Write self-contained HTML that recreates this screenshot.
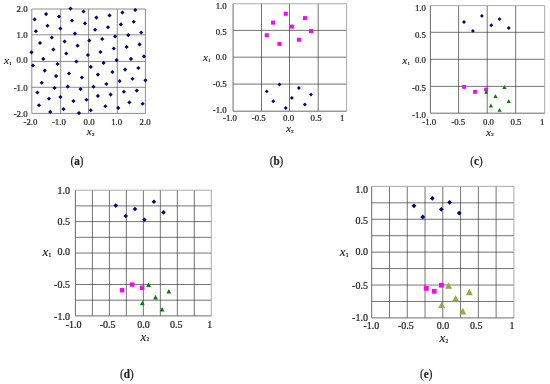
<!DOCTYPE html>
<html><head><meta charset="utf-8"><title>Figure</title>
<style>html,body{margin:0;padding:0;background:#fff}svg{display:block}text{font-family:"Liberation Serif",serif;fill:#1c1c1c;stroke:#1c1c1c;stroke-width:0.22}</style>
</head><body>
<svg width="550" height="384" viewBox="0 0 550 384">
<rect width="550" height="384" fill="#fff"/>
<line x1="31.80" y1="9.00" x2="31.80" y2="113.40" stroke="#707070" stroke-width="0.8"/>
<line x1="60.70" y1="9.00" x2="60.70" y2="113.40" stroke="#707070" stroke-width="0.8"/>
<line x1="88.60" y1="9.00" x2="88.60" y2="113.40" stroke="#707070" stroke-width="0.8"/>
<line x1="117.30" y1="9.00" x2="117.30" y2="113.40" stroke="#707070" stroke-width="0.8"/>
<line x1="145.40" y1="9.00" x2="145.40" y2="113.40" stroke="#707070" stroke-width="0.8"/>
<line x1="31.80" y1="9.00" x2="145.40" y2="9.00" stroke="#707070" stroke-width="0.8"/>
<line x1="31.80" y1="34.80" x2="145.40" y2="34.80" stroke="#707070" stroke-width="0.8"/>
<line x1="31.80" y1="61.45" x2="145.40" y2="61.45" stroke="#707070" stroke-width="0.8"/>
<line x1="31.80" y1="87.30" x2="145.40" y2="87.30" stroke="#707070" stroke-width="0.8"/>
<line x1="31.80" y1="113.40" x2="145.40" y2="113.40" stroke="#707070" stroke-width="0.8"/>
<path d="M70.50 6.50L72.60 8.60L70.50 10.70L68.40 8.60Z" fill="#000080"/>
<path d="M83.50 9.40L85.60 11.50L83.50 13.60L81.40 11.50Z" fill="#000080"/>
<path d="M46.10 12.00L48.20 14.10L46.10 16.20L44.00 14.10Z" fill="#000080"/>
<path d="M58.90 14.40L61.00 16.50L58.90 18.60L56.80 16.50Z" fill="#000080"/>
<path d="M34.60 17.30L36.70 19.40L34.60 21.50L32.50 19.40Z" fill="#000080"/>
<path d="M72.00 18.40L74.10 20.50L72.00 22.60L69.90 20.50Z" fill="#000080"/>
<path d="M85.00 21.30L87.10 23.40L85.00 25.50L82.90 23.40Z" fill="#000080"/>
<path d="M47.50 23.65L49.60 25.75L47.50 27.85L45.40 25.75Z" fill="#000080"/>
<path d="M60.40 26.40L62.50 28.50L60.40 30.60L58.30 28.50Z" fill="#000080"/>
<path d="M35.90 29.15L38.00 31.25L35.90 33.35L33.80 31.25Z" fill="#000080"/>
<path d="M74.90 31.50L77.00 33.60L74.90 35.70L72.80 33.60Z" fill="#000080"/>
<path d="M51.75 35.40L53.85 37.50L51.75 39.60L49.65 37.50Z" fill="#000080"/>
<path d="M64.60 39.40L66.70 41.50L64.60 43.60L62.50 41.50Z" fill="#000080"/>
<path d="M89.30 38.40L91.40 40.50L89.30 42.60L87.20 40.50Z" fill="#000080"/>
<path d="M40.00 40.90L42.10 43.00L40.00 45.10L37.90 43.00Z" fill="#000080"/>
<path d="M77.60 43.60L79.70 45.70L77.60 47.80L75.50 45.70Z" fill="#000080"/>
<path d="M53.40 47.40L55.50 49.50L53.40 51.60L51.30 49.50Z" fill="#000080"/>
<path d="M31.50 50.20L33.60 52.30L31.50 54.40L29.40 52.30Z" fill="#000080"/>
<path d="M135.25 7.90L137.35 10.00L135.25 12.10L133.15 10.00Z" fill="#000080"/>
<path d="M122.40 10.40L124.50 12.50L122.40 14.60L120.30 12.50Z" fill="#000080"/>
<path d="M109.50 13.30L111.60 15.40L109.50 17.50L107.40 15.40Z" fill="#000080"/>
<path d="M96.40 15.50L98.50 17.60L96.40 19.70L94.30 17.60Z" fill="#000080"/>
<path d="M133.75 19.65L135.85 21.75L133.75 23.85L131.65 21.75Z" fill="#000080"/>
<path d="M120.90 22.30L123.00 24.40L120.90 26.50L118.80 24.40Z" fill="#000080"/>
<path d="M108.00 25.15L110.10 27.25L108.00 29.35L105.90 27.25Z" fill="#000080"/>
<path d="M95.10 27.65L97.20 29.75L95.10 31.85L93.00 29.75Z" fill="#000080"/>
<path d="M141.25 30.40L143.35 32.50L141.25 34.60L139.15 32.50Z" fill="#000080"/>
<path d="M128.25 33.00L130.35 35.10L128.25 37.20L126.15 35.10Z" fill="#000080"/>
<path d="M115.10 34.40L117.20 36.50L115.10 38.60L113.00 36.50Z" fill="#000080"/>
<path d="M102.25 36.90L104.35 39.00L102.25 41.10L100.15 39.00Z" fill="#000080"/>
<path d="M139.60 42.30L141.70 44.40L139.60 46.50L137.50 44.40Z" fill="#000080"/>
<path d="M126.60 44.80L128.70 46.90L126.60 49.00L124.50 46.90Z" fill="#000080"/>
<path d="M113.75 46.40L115.85 48.50L113.75 50.60L111.65 48.50Z" fill="#000080"/>
<path d="M100.50 49.90L102.60 52.00L100.50 54.10L98.40 52.00Z" fill="#000080"/>
<path d="M66.25 51.40L68.35 53.50L66.25 55.60L64.15 53.50Z" fill="#000080"/>
<path d="M87.90 52.90L90.00 55.00L87.90 57.10L85.80 55.00Z" fill="#000080"/>
<path d="M43.25 56.80L45.35 58.90L43.25 61.00L41.15 58.90Z" fill="#000080"/>
<path d="M76.40 59.40L78.50 61.50L76.40 63.60L74.30 61.50Z" fill="#000080"/>
<path d="M57.60 61.90L59.70 64.00L57.60 66.10L55.50 64.00Z" fill="#000080"/>
<path d="M33.00 63.40L35.10 65.50L33.00 67.60L30.90 65.50Z" fill="#000080"/>
<path d="M90.80 64.80L92.90 66.90L90.80 69.00L88.70 66.90Z" fill="#000080"/>
<path d="M44.75 68.50L46.85 70.60L44.75 72.70L42.65 70.60Z" fill="#000080"/>
<path d="M69.00 71.40L71.10 73.50L69.00 75.60L66.90 73.50Z" fill="#000080"/>
<path d="M56.10 74.00L58.20 76.10L56.10 78.20L54.00 76.10Z" fill="#000080"/>
<path d="M81.90 75.40L84.00 77.50L81.90 79.60L79.80 77.50Z" fill="#000080"/>
<path d="M41.75 80.65L43.85 82.75L41.75 84.85L39.65 82.75Z" fill="#000080"/>
<path d="M67.75 84.50L69.85 86.60L67.75 88.70L65.65 86.60Z" fill="#000080"/>
<path d="M54.50 85.80L56.60 87.90L54.50 90.00L52.40 87.90Z" fill="#000080"/>
<path d="M80.60 87.00L82.70 89.10L80.60 91.20L78.50 89.10Z" fill="#000080"/>
<path d="M37.40 90.40L39.50 92.50L37.40 94.60L35.30 92.50Z" fill="#000080"/>
<path d="M143.90 54.30L146.00 56.40L143.90 58.50L141.80 56.40Z" fill="#000080"/>
<path d="M131.00 56.80L133.10 58.90L131.00 61.00L128.90 58.90Z" fill="#000080"/>
<path d="M116.60 58.00L118.70 60.10L116.60 62.20L114.50 60.10Z" fill="#000080"/>
<path d="M103.60 60.80L105.70 62.90L103.60 65.00L101.50 62.90Z" fill="#000080"/>
<path d="M138.40 65.90L140.50 68.00L138.40 70.10L136.30 68.00Z" fill="#000080"/>
<path d="M125.10 67.50L127.20 69.60L125.10 71.70L123.00 69.60Z" fill="#000080"/>
<path d="M112.40 69.90L114.50 72.00L112.40 74.10L110.30 72.00Z" fill="#000080"/>
<path d="M97.90 72.50L100.00 74.60L97.90 76.70L95.80 74.60Z" fill="#000080"/>
<path d="M132.50 76.65L134.60 78.75L132.50 80.85L130.40 78.75Z" fill="#000080"/>
<path d="M145.40 78.20L147.50 80.30L145.40 82.40L143.30 80.30Z" fill="#000080"/>
<path d="M119.60 79.10L121.70 81.20L119.60 83.30L117.50 81.20Z" fill="#000080"/>
<path d="M106.40 81.90L108.50 84.00L106.40 86.10L104.30 84.00Z" fill="#000080"/>
<path d="M93.50 84.60L95.60 86.70L93.50 88.80L91.40 86.70Z" fill="#000080"/>
<path d="M136.75 88.50L138.85 90.60L136.75 92.70L134.65 90.60Z" fill="#000080"/>
<path d="M123.90 89.65L126.00 91.75L123.90 93.85L121.80 91.75Z" fill="#000080"/>
<path d="M60.40 95.00L62.50 97.10L60.40 99.20L58.30 97.10Z" fill="#000080"/>
<path d="M49.00 96.65L51.10 98.75L49.00 100.85L46.90 98.75Z" fill="#000080"/>
<path d="M86.50 97.65L88.60 99.75L86.50 101.85L84.40 99.75Z" fill="#000080"/>
<path d="M73.40 99.00L75.50 101.10L73.40 103.20L71.30 101.10Z" fill="#000080"/>
<path d="M39.00 103.15L41.10 105.25L39.00 107.35L36.90 105.25Z" fill="#000080"/>
<path d="M63.50 107.00L65.60 109.10L63.50 111.20L61.40 109.10Z" fill="#000080"/>
<path d="M90.75 108.15L92.85 110.25L90.75 112.35L88.65 110.25Z" fill="#000080"/>
<path d="M50.25 109.80L52.35 111.90L50.25 114.00L48.15 111.90Z" fill="#000080"/>
<path d="M79.00 111.00L81.10 113.10L79.00 115.20L76.90 113.10Z" fill="#000080"/>
<path d="M110.60 92.50L112.70 94.60L110.60 96.70L108.50 94.60Z" fill="#000080"/>
<path d="M97.90 93.80L100.00 95.90L97.90 98.00L95.80 95.90Z" fill="#000080"/>
<path d="M129.40 100.30L131.50 102.40L129.40 104.50L127.30 102.40Z" fill="#000080"/>
<path d="M142.60 101.65L144.70 103.75L142.60 105.85L140.50 103.75Z" fill="#000080"/>
<path d="M105.40 104.15L107.50 106.25L105.40 108.35L103.30 106.25Z" fill="#000080"/>
<path d="M118.25 105.80L120.35 107.90L118.25 110.00L116.15 107.90Z" fill="#000080"/>
<text x="27.60" y="12.27" font-size="8.8" text-anchor="end">2.0</text>
<text x="27.60" y="38.17" font-size="8.8" text-anchor="end">1.0</text>
<text x="27.60" y="63.37" font-size="8.8" text-anchor="end">0.0</text>
<text x="27.60" y="91.17" font-size="8.8" text-anchor="end">-1.0</text>
<text x="27.60" y="117.27" font-size="8.8" text-anchor="end">-2.0</text>
<text x="30.45" y="124.97" font-size="8.8" text-anchor="middle">-2.0</text>
<text x="58.90" y="124.97" font-size="8.8" text-anchor="middle">-1.0</text>
<text x="89.10" y="124.97" font-size="8.8" text-anchor="middle">0.0</text>
<text x="116.70" y="124.97" font-size="8.8" text-anchor="middle">1.0</text>
<text x="145.10" y="124.97" font-size="8.8" text-anchor="middle">2.0</text>
<text x="3.90" y="63.90" font-size="11.4" text-anchor="start"><tspan font-style="italic" stroke-width="0.12">x</tspan><tspan font-size="4.8" dx="0.2" dy="0.6" font-style="normal">1</tspan></text>
<text x="86.80" y="135.00" font-size="11.4" text-anchor="start"><tspan font-style="italic" stroke-width="0.12">x</tspan><tspan font-size="4.8" dx="0.2" dy="0.6" font-style="normal">2</tspan></text>
<text transform="translate(77.00 165.30) scale(0.86 1)" font-size="13" text-anchor="middle" stroke-width="0.1">(<tspan font-weight="bold">a</tspan>)</text>
<line x1="261.50" y1="3.75" x2="261.50" y2="111.20" stroke="#2a2a2a" stroke-width="0.65"/>
<line x1="289.50" y1="3.75" x2="289.50" y2="111.20" stroke="#2a2a2a" stroke-width="0.65"/>
<line x1="318.20" y1="3.75" x2="318.20" y2="111.20" stroke="#2a2a2a" stroke-width="0.65"/>
<line x1="233.10" y1="30.40" x2="346.60" y2="30.40" stroke="#2a2a2a" stroke-width="0.65"/>
<line x1="233.10" y1="57.20" x2="346.60" y2="57.20" stroke="#2a2a2a" stroke-width="0.65"/>
<line x1="233.10" y1="84.10" x2="346.60" y2="84.10" stroke="#2a2a2a" stroke-width="0.65"/>
<line x1="233.10" y1="3.75" x2="346.60" y2="3.75" stroke="#a0a0a0" stroke-width="0.9"/>
<line x1="346.60" y1="3.75" x2="346.60" y2="111.20" stroke="#a0a0a0" stroke-width="0.9"/>
<line x1="233.10" y1="3.75" x2="233.10" y2="111.20" stroke="#5a5a5a" stroke-width="0.9"/>
<line x1="233.10" y1="111.20" x2="346.60" y2="111.20" stroke="#5a5a5a" stroke-width="0.9"/>
<text x="226.70" y="8.97" font-size="8.8" text-anchor="end">1.0</text>
<text x="226.70" y="34.57" font-size="8.8" text-anchor="end">0.5</text>
<text x="226.70" y="60.17" font-size="8.8" text-anchor="end">0.0</text>
<text x="226.70" y="87.37" font-size="8.8" text-anchor="end">-0.5</text>
<text x="226.70" y="113.47" font-size="8.8" text-anchor="end">-1.0</text>
<text x="230.00" y="121.37" font-size="8.8" text-anchor="middle">-1.0</text>
<text x="258.80" y="121.37" font-size="8.8" text-anchor="middle">-0.5</text>
<text x="288.60" y="121.37" font-size="8.8" text-anchor="middle">0.0</text>
<text x="316.10" y="121.37" font-size="8.8" text-anchor="middle">0.5</text>
<text x="342.10" y="121.37" font-size="8.8" text-anchor="middle">1</text>
<text x="202.90" y="61.10" font-size="11.4" text-anchor="start"><tspan font-style="italic" stroke-width="0.12">x</tspan><tspan font-size="4.8" dx="0.2" dy="0.6" font-style="normal">1</tspan></text>
<text x="286.00" y="132.00" font-size="11.4" text-anchor="start"><tspan font-style="italic" stroke-width="0.12">x</tspan><tspan font-size="4.8" dx="0.2" dy="0.6" font-style="normal">2</tspan></text>
<text transform="translate(276.50 165.30) scale(0.86 1)" font-size="13" text-anchor="middle" stroke-width="0.1">(<tspan font-weight="bold">b</tspan>)</text>
<rect x="283.75" y="11.75" width="4.0" height="4.0" fill="#ff00ff"/>
<rect x="271.00" y="20.60" width="4.0" height="4.0" fill="#ff00ff"/>
<rect x="264.75" y="33.25" width="4.0" height="4.0" fill="#ff00ff"/>
<rect x="277.40" y="41.90" width="4.0" height="4.0" fill="#ff00ff"/>
<rect x="302.90" y="16.10" width="4.0" height="4.0" fill="#ff00ff"/>
<rect x="289.90" y="24.60" width="4.0" height="4.0" fill="#ff00ff"/>
<rect x="309.00" y="29.00" width="4.0" height="4.0" fill="#ff00ff"/>
<rect x="296.90" y="37.75" width="4.0" height="4.0" fill="#ff00ff"/>
<path d="M279.50 82.55L281.45 84.50L279.50 86.45L277.55 84.50Z" fill="#000080"/>
<path d="M266.75 89.45L268.70 91.40L266.75 93.35L264.80 91.40Z" fill="#000080"/>
<path d="M273.25 99.30L275.20 101.25L273.25 103.20L271.30 101.25Z" fill="#000080"/>
<path d="M285.70 106.05L287.65 108.00L285.70 109.95L283.75 108.00Z" fill="#000080"/>
<path d="M298.90 86.05L300.85 88.00L298.90 89.95L296.95 88.00Z" fill="#000080"/>
<path d="M311.00 92.65L312.95 94.60L311.00 96.55L309.05 94.60Z" fill="#000080"/>
<path d="M291.90 95.95L293.85 97.90L291.90 99.85L289.95 97.90Z" fill="#000080"/>
<path d="M304.90 102.55L306.85 104.50L304.90 106.45L302.95 104.50Z" fill="#000080"/>
<line x1="458.60" y1="5.60" x2="458.60" y2="113.20" stroke="#2a2a2a" stroke-width="0.65"/>
<line x1="487.20" y1="5.60" x2="487.20" y2="113.20" stroke="#2a2a2a" stroke-width="0.65"/>
<line x1="515.70" y1="5.60" x2="515.70" y2="113.20" stroke="#2a2a2a" stroke-width="0.65"/>
<line x1="430.40" y1="32.30" x2="544.70" y2="32.30" stroke="#2a2a2a" stroke-width="0.65"/>
<line x1="430.40" y1="59.30" x2="544.70" y2="59.30" stroke="#2a2a2a" stroke-width="0.65"/>
<line x1="430.40" y1="86.40" x2="544.70" y2="86.40" stroke="#2a2a2a" stroke-width="0.65"/>
<line x1="430.40" y1="5.60" x2="544.70" y2="5.60" stroke="#a0a0a0" stroke-width="0.9"/>
<line x1="544.70" y1="5.60" x2="544.70" y2="113.20" stroke="#a0a0a0" stroke-width="0.9"/>
<line x1="430.40" y1="5.60" x2="430.40" y2="113.20" stroke="#5a5a5a" stroke-width="0.9"/>
<line x1="430.40" y1="113.20" x2="544.70" y2="113.20" stroke="#5a5a5a" stroke-width="0.9"/>
<text x="425.90" y="11.47" font-size="8.8" text-anchor="end">1.0</text>
<text x="425.90" y="37.97" font-size="8.8" text-anchor="end">0.5</text>
<text x="425.90" y="63.17" font-size="8.8" text-anchor="end">0.0</text>
<text x="425.90" y="91.27" font-size="8.8" text-anchor="end">-0.5</text>
<text x="425.90" y="117.57" font-size="8.8" text-anchor="end">-1.0</text>
<text x="429.25" y="125.17" font-size="8.8" text-anchor="middle">-1.0</text>
<text x="458.20" y="125.17" font-size="8.8" text-anchor="middle">-0.5</text>
<text x="488.50" y="125.17" font-size="8.8" text-anchor="middle">0.0</text>
<text x="516.00" y="125.17" font-size="8.8" text-anchor="middle">0.5</text>
<text x="542.20" y="125.17" font-size="8.8" text-anchor="middle">1</text>
<text x="402.20" y="64.20" font-size="11.4" text-anchor="start"><tspan font-style="italic" stroke-width="0.12">x</tspan><tspan font-size="4.8" dx="0.2" dy="0.6" font-style="normal">1</tspan></text>
<text x="485.90" y="135.60" font-size="11.4" text-anchor="start"><tspan font-style="italic" stroke-width="0.12">x</tspan><tspan font-size="4.8" dx="0.2" dy="0.6" font-style="normal">2</tspan></text>
<text transform="translate(476.40 165.30) scale(0.86 1)" font-size="13" text-anchor="middle" stroke-width="0.1">(<tspan font-weight="bold">c</tspan>)</text>
<path d="M481.90 13.95L483.85 15.90L481.90 17.85L479.95 15.90Z" fill="#000080"/>
<path d="M464.00 20.05L465.95 22.00L464.00 23.95L462.05 22.00Z" fill="#000080"/>
<path d="M472.90 28.95L474.85 30.90L472.90 32.85L470.95 30.90Z" fill="#000080"/>
<path d="M499.50 17.15L501.45 19.10L499.50 21.05L497.55 19.10Z" fill="#000080"/>
<path d="M491.25 23.30L493.20 25.25L491.25 27.20L489.30 25.25Z" fill="#000080"/>
<path d="M508.75 26.05L510.70 28.00L508.75 29.95L506.80 28.00Z" fill="#000080"/>
<rect x="462.20" y="85.00" width="3.8" height="3.8" fill="#ff00ff"/>
<rect x="473.10" y="90.00" width="3.8" height="3.8" fill="#ff00ff"/>
<rect x="484.20" y="87.60" width="3.8" height="3.8" fill="#ff00ff"/>
<path d="M504.40 85.05L506.50 88.95L502.30 88.95Z" fill="#008000"/>
<path d="M486.25 89.80L488.35 93.70L484.15 93.70Z" fill="#008000"/>
<path d="M495.50 94.05L497.60 97.95L493.40 97.95Z" fill="#008000"/>
<path d="M508.75 99.05L510.85 102.95L506.65 102.95Z" fill="#008000"/>
<path d="M490.90 103.55L493.00 107.45L488.80 107.45Z" fill="#008000"/>
<path d="M499.60 107.95L501.70 111.85L497.50 111.85Z" fill="#008000"/>
<line x1="92.39" y1="190.20" x2="92.39" y2="315.90" stroke="#2a2a2a" stroke-width="0.65"/>
<line x1="109.38" y1="190.20" x2="109.38" y2="315.90" stroke="#2a2a2a" stroke-width="0.65"/>
<line x1="126.36" y1="190.20" x2="126.36" y2="315.90" stroke="#2a2a2a" stroke-width="0.65"/>
<line x1="143.35" y1="190.20" x2="143.35" y2="315.90" stroke="#2a2a2a" stroke-width="0.65"/>
<line x1="160.34" y1="190.20" x2="160.34" y2="315.90" stroke="#2a2a2a" stroke-width="0.65"/>
<line x1="177.33" y1="190.20" x2="177.33" y2="315.90" stroke="#2a2a2a" stroke-width="0.65"/>
<line x1="194.31" y1="190.20" x2="194.31" y2="315.90" stroke="#2a2a2a" stroke-width="0.65"/>
<line x1="75.40" y1="205.91" x2="211.30" y2="205.91" stroke="#2a2a2a" stroke-width="0.65"/>
<line x1="75.40" y1="221.62" x2="211.30" y2="221.62" stroke="#2a2a2a" stroke-width="0.65"/>
<line x1="75.40" y1="237.34" x2="211.30" y2="237.34" stroke="#2a2a2a" stroke-width="0.65"/>
<line x1="75.40" y1="253.05" x2="211.30" y2="253.05" stroke="#2a2a2a" stroke-width="0.65"/>
<line x1="75.40" y1="268.76" x2="211.30" y2="268.76" stroke="#2a2a2a" stroke-width="0.65"/>
<line x1="75.40" y1="284.47" x2="211.30" y2="284.47" stroke="#2a2a2a" stroke-width="0.65"/>
<line x1="75.40" y1="300.19" x2="211.30" y2="300.19" stroke="#2a2a2a" stroke-width="0.65"/>
<line x1="75.40" y1="190.20" x2="211.30" y2="190.20" stroke="#a0a0a0" stroke-width="0.9"/>
<line x1="211.30" y1="190.20" x2="211.30" y2="315.90" stroke="#a0a0a0" stroke-width="0.9"/>
<line x1="75.40" y1="190.20" x2="75.40" y2="315.90" stroke="#5a5a5a" stroke-width="0.9"/>
<line x1="75.40" y1="315.90" x2="211.30" y2="315.90" stroke="#5a5a5a" stroke-width="0.9"/>
<text x="69.90" y="194.38" font-size="10" text-anchor="end">1.0</text>
<text x="69.90" y="225.48" font-size="10" text-anchor="end">0.5</text>
<text x="69.90" y="255.38" font-size="10" text-anchor="end">0.0</text>
<text x="69.90" y="288.48" font-size="10" text-anchor="end">-0.5</text>
<text x="69.90" y="319.68" font-size="10" text-anchor="end">-1.0</text>
<text x="73.60" y="328.38" font-size="10" text-anchor="middle">-1.0</text>
<text x="107.60" y="328.38" font-size="10" text-anchor="middle">-0.5</text>
<text x="143.40" y="328.38" font-size="10" text-anchor="middle">0.0</text>
<text x="176.30" y="328.38" font-size="10" text-anchor="middle">0.5</text>
<text x="209.80" y="328.38" font-size="10" text-anchor="middle">1</text>
<text x="42.50" y="256.40" font-size="13" text-anchor="start"><tspan font-style="italic" stroke-width="0.12">x</tspan><tspan font-size="5.5" dx="0.2" dy="0.6" font-style="normal">1</tspan></text>
<text x="140.50" y="340.60" font-size="13" text-anchor="start"><tspan font-style="italic" stroke-width="0.12">x</tspan><tspan font-size="5.5" dx="0.2" dy="0.6" font-style="normal">2</tspan></text>
<text transform="translate(126.90 377.90) scale(0.86 1)" font-size="13" text-anchor="middle" stroke-width="0.1">(<tspan font-weight="bold">d</tspan>)</text>
<path d="M115.80 203.30L118.10 205.60L115.80 207.90L113.50 205.60Z" fill="#000080"/>
<path d="M135.00 206.70L137.30 209.00L135.00 211.30L132.70 209.00Z" fill="#000080"/>
<path d="M125.70 213.70L128.00 216.00L125.70 218.30L123.40 216.00Z" fill="#000080"/>
<path d="M144.40 217.40L146.70 219.70L144.40 222.00L142.10 219.70Z" fill="#000080"/>
<path d="M153.90 199.50L156.20 201.80L153.90 204.10L151.60 201.80Z" fill="#000080"/>
<path d="M163.50 210.10L165.80 212.40L163.50 214.70L161.20 212.40Z" fill="#000080"/>
<rect x="119.90" y="288.05" width="4.4" height="4.4" fill="#ff00ff"/>
<rect x="130.00" y="282.40" width="4.4" height="4.4" fill="#ff00ff"/>
<rect x="140.00" y="285.60" width="4.4" height="4.4" fill="#ff00ff"/>
<path d="M148.50 282.30L150.90 286.90L146.10 286.90Z" fill="#008000"/>
<path d="M168.80 288.90L171.20 293.50L166.40 293.50Z" fill="#008000"/>
<path d="M155.50 294.80L157.90 299.40L153.10 299.40Z" fill="#008000"/>
<path d="M142.30 300.70L144.70 305.30L139.90 305.30Z" fill="#008000"/>
<path d="M162.10 307.00L164.50 311.60L159.70 311.60Z" fill="#008000"/>
<line x1="389.47" y1="186.40" x2="389.47" y2="317.90" stroke="#2a2a2a" stroke-width="0.65"/>
<line x1="407.25" y1="186.40" x2="407.25" y2="317.90" stroke="#2a2a2a" stroke-width="0.65"/>
<line x1="425.02" y1="186.40" x2="425.02" y2="317.90" stroke="#2a2a2a" stroke-width="0.65"/>
<line x1="442.80" y1="186.40" x2="442.80" y2="317.90" stroke="#2a2a2a" stroke-width="0.65"/>
<line x1="460.57" y1="186.40" x2="460.57" y2="317.90" stroke="#2a2a2a" stroke-width="0.65"/>
<line x1="478.35" y1="186.40" x2="478.35" y2="317.90" stroke="#2a2a2a" stroke-width="0.65"/>
<line x1="496.12" y1="186.40" x2="496.12" y2="317.90" stroke="#2a2a2a" stroke-width="0.65"/>
<line x1="371.70" y1="202.84" x2="513.90" y2="202.84" stroke="#2a2a2a" stroke-width="0.65"/>
<line x1="371.70" y1="219.28" x2="513.90" y2="219.28" stroke="#2a2a2a" stroke-width="0.65"/>
<line x1="371.70" y1="235.71" x2="513.90" y2="235.71" stroke="#2a2a2a" stroke-width="0.65"/>
<line x1="371.70" y1="252.15" x2="513.90" y2="252.15" stroke="#2a2a2a" stroke-width="0.65"/>
<line x1="371.70" y1="268.59" x2="513.90" y2="268.59" stroke="#2a2a2a" stroke-width="0.65"/>
<line x1="371.70" y1="285.02" x2="513.90" y2="285.02" stroke="#2a2a2a" stroke-width="0.65"/>
<line x1="371.70" y1="301.46" x2="513.90" y2="301.46" stroke="#2a2a2a" stroke-width="0.65"/>
<line x1="371.70" y1="186.40" x2="513.90" y2="186.40" stroke="#a0a0a0" stroke-width="0.9"/>
<line x1="513.90" y1="186.40" x2="513.90" y2="317.90" stroke="#a0a0a0" stroke-width="0.9"/>
<line x1="371.70" y1="186.40" x2="371.70" y2="317.90" stroke="#5a5a5a" stroke-width="0.9"/>
<line x1="371.70" y1="317.90" x2="513.90" y2="317.90" stroke="#5a5a5a" stroke-width="0.9"/>
<text x="367.90" y="192.78" font-size="10" text-anchor="end">1.0</text>
<text x="367.90" y="223.98" font-size="10" text-anchor="end">0.5</text>
<text x="367.90" y="255.18" font-size="10" text-anchor="end">0.0</text>
<text x="367.90" y="288.98" font-size="10" text-anchor="end">-0.5</text>
<text x="367.90" y="320.98" font-size="10" text-anchor="end">-1.0</text>
<text x="371.30" y="329.48" font-size="10" text-anchor="middle">-1.0</text>
<text x="405.90" y="329.48" font-size="10" text-anchor="middle">-0.5</text>
<text x="442.90" y="329.48" font-size="10" text-anchor="middle">0.0</text>
<text x="476.30" y="329.48" font-size="10" text-anchor="middle">0.5</text>
<text x="511.90" y="329.48" font-size="10" text-anchor="middle">1</text>
<text x="339.80" y="256.30" font-size="13" text-anchor="start"><tspan font-style="italic" stroke-width="0.12">x</tspan><tspan font-size="5.5" dx="0.2" dy="0.6" font-style="normal">1</tspan></text>
<text x="439.40" y="342.00" font-size="13" text-anchor="start"><tspan font-style="italic" stroke-width="0.12">x</tspan><tspan font-size="5.5" dx="0.2" dy="0.6" font-style="normal">2</tspan></text>
<text transform="translate(426.30 378.10) scale(0.86 1)" font-size="13" text-anchor="middle" stroke-width="0.1">(<tspan font-weight="bold">e</tspan>)</text>
<path d="M432.30 195.90L434.70 198.30L432.30 200.70L429.90 198.30Z" fill="#000080"/>
<path d="M414.00 203.40L416.40 205.80L414.00 208.20L411.60 205.80Z" fill="#000080"/>
<path d="M441.30 206.90L443.70 209.30L441.30 211.70L438.90 209.30Z" fill="#000080"/>
<path d="M422.75 214.60L425.15 217.00L422.75 219.40L420.35 217.00Z" fill="#000080"/>
<path d="M449.60 199.90L452.00 202.30L449.60 204.70L447.20 202.30Z" fill="#000080"/>
<path d="M459.20 210.70L461.60 213.10L459.20 215.50L456.80 213.10Z" fill="#000080"/>
<rect x="423.90" y="286.00" width="4.8" height="4.8" fill="#ff00ff"/>
<rect x="431.80" y="288.90" width="4.8" height="4.8" fill="#ff00ff"/>
<rect x="439.00" y="282.80" width="4.8" height="4.8" fill="#ff00ff"/>
<path d="M448.60 282.20L452.10 288.80L445.10 288.80Z" fill="#8fae48"/>
<path d="M469.40 288.60L472.90 295.20L465.90 295.20Z" fill="#8fae48"/>
<path d="M455.60 295.00L459.10 301.60L452.10 301.60Z" fill="#8fae48"/>
<path d="M441.70 301.50L445.20 308.10L438.20 308.10Z" fill="#8fae48"/>
<path d="M462.80 307.80L466.30 314.40L459.30 314.40Z" fill="#8fae48"/>
</svg>
</body></html>
